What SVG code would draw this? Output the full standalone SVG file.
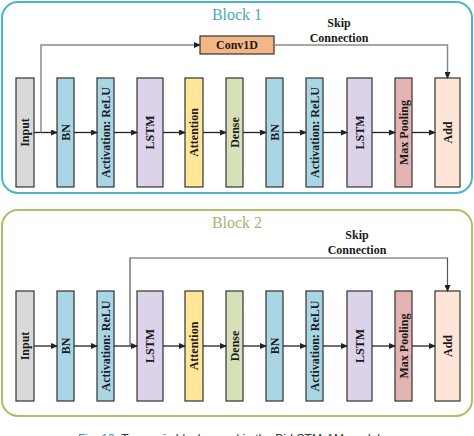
<svg xmlns="http://www.w3.org/2000/svg" width="474" height="436" viewBox="0 0 474 436">
<style>
.blk{fill:#ffffff;stroke-width:2}
.nd{stroke:#333;stroke-width:1.2}
.lbl{font-family:"Liberation Serif",serif;font-weight:bold;font-size:12px;fill:#1a1a1a;text-anchor:middle;dominant-baseline:central}
.title{font-family:"Liberation Serif",serif;font-size:16px;text-anchor:middle}
.skip{font-family:"Liberation Serif",serif;font-weight:bold;font-size:12px;fill:#1a1a1a;text-anchor:middle}
.ar{stroke:#222;stroke-width:1.3;fill:none;marker-end:url(#ah)}
.sk1{stroke:#8a8a8a;stroke-width:1.5;fill:none}
.sk2{stroke:#555;stroke-width:1.2;fill:none}
.gray{fill:#d9d9d9}.blue{fill:#a9d5e4}.lav{fill:#dcd3ea}.yel{fill:#ffe699}.grn{fill:#d6e1b8}.pink{fill:#e4b4b3}.peach{fill:#fde6d8}.org{fill:#f5b686}
</style>
<defs>
<marker id="ah" markerWidth="7" markerHeight="6" refX="6" refY="3" orient="auto" markerUnits="userSpaceOnUse">
<path d="M0,0 L7,3 L0,6 Z" fill="#222"/>
</marker>
</defs>
<g id="block1">
<rect class="blk" x="2" y="2" width="470" height="191" rx="16" stroke="#4cb3c9"/>
<text class="title" x="237" y="20" fill="#4aa9c2">Block 1</text>
</g>
<g id="block2">
<rect class="blk" x="2" y="210" width="470" height="206" rx="16" stroke="#a9c265"/>
<text class="title" x="237" y="228" fill="#a4b66a">Block 2</text>
</g>
<g id="b1-input"><rect class="nd gray" x="16" y="78" width="18" height="109"/><text class="lbl" transform="translate(25,132.5) rotate(-90)">Input</text></g>
<g id="b1-bn1"><rect class="nd blue" x="57" y="78" width="17" height="109"/><text class="lbl" transform="translate(65.5,132.5) rotate(-90)">BN</text></g>
<g id="b1-act1"><rect class="nd blue" x="97" y="78" width="17" height="109"/><text class="lbl" transform="translate(105.5,132.5) rotate(-90)">Activation: ReLU</text></g>
<g id="b1-lstm1"><rect class="nd lav" x="137" y="78" width="26" height="109"/><text class="lbl" transform="translate(150,132.5) rotate(-90)">LSTM</text></g>
<g id="b1-att"><rect class="nd yel" x="185" y="78" width="18" height="109"/><text class="lbl" transform="translate(194,132.5) rotate(-90)">Attention</text></g>
<g id="b1-dense"><rect class="nd grn" x="226" y="78" width="17" height="109"/><text class="lbl" transform="translate(234.5,132.5) rotate(-90)">Dense</text></g>
<g id="b1-bn2"><rect class="nd blue" x="266" y="78" width="17" height="109"/><text class="lbl" transform="translate(274.5,132.5) rotate(-90)">BN</text></g>
<g id="b1-act2"><rect class="nd blue" x="306" y="78" width="17" height="109"/><text class="lbl" transform="translate(314.5,132.5) rotate(-90)">Activation: ReLU</text></g>
<g id="b1-lstm2"><rect class="nd lav" x="347" y="78" width="25" height="109"/><text class="lbl" transform="translate(359.5,132.5) rotate(-90)">LSTM</text></g>
<g id="b1-pool"><rect class="nd pink" x="395" y="78" width="17" height="109"/><text class="lbl" transform="translate(403.5,132.5) rotate(-90)">Max Pooling</text></g>
<g id="b1-add"><rect class="nd peach" x="435" y="78" width="25" height="109"/><text class="lbl" transform="translate(447.5,132.5) rotate(-90)">Add</text></g>
<g id="b1-conv"><rect class="nd org" x="200" y="36" width="74" height="18"/><text class="lbl" x="237" y="45">Conv1D</text></g>
<g id="b2-input"><rect class="nd gray" x="16" y="291" width="18" height="110"/><text class="lbl" transform="translate(25,346) rotate(-90)">Input</text></g>
<g id="b2-bn1"><rect class="nd blue" x="57" y="291" width="17" height="110"/><text class="lbl" transform="translate(65.5,346) rotate(-90)">BN</text></g>
<g id="b2-act1"><rect class="nd blue" x="97" y="291" width="17" height="110"/><text class="lbl" transform="translate(105.5,346) rotate(-90)">Activation: ReLU</text></g>
<g id="b2-lstm1"><rect class="nd lav" x="137" y="291" width="26" height="110"/><text class="lbl" transform="translate(150,346) rotate(-90)">LSTM</text></g>
<g id="b2-att"><rect class="nd yel" x="185" y="291" width="18" height="110"/><text class="lbl" transform="translate(194,346) rotate(-90)">Attention</text></g>
<g id="b2-dense"><rect class="nd grn" x="226" y="291" width="17" height="110"/><text class="lbl" transform="translate(234.5,346) rotate(-90)">Dense</text></g>
<g id="b2-bn2"><rect class="nd blue" x="266" y="291" width="17" height="110"/><text class="lbl" transform="translate(274.5,346) rotate(-90)">BN</text></g>
<g id="b2-act2"><rect class="nd blue" x="306" y="291" width="17" height="110"/><text class="lbl" transform="translate(314.5,346) rotate(-90)">Activation: ReLU</text></g>
<g id="b2-lstm2"><rect class="nd lav" x="347" y="291" width="25" height="110"/><text class="lbl" transform="translate(359.5,346) rotate(-90)">LSTM</text></g>
<g id="b2-pool"><rect class="nd pink" x="395" y="291" width="17" height="110"/><text class="lbl" transform="translate(403.5,346) rotate(-90)">Max Pooling</text></g>
<g id="b2-add"><rect class="nd peach" x="435" y="291" width="25" height="110"/><text class="lbl" transform="translate(447.5,346) rotate(-90)">Add</text></g>
<g id="connectors">
<line class="ar" x1="34" y1="132.5" x2="57" y2="132.5"/>
<line class="ar" x1="74" y1="132.5" x2="97" y2="132.5"/>
<line class="ar" x1="114" y1="132.5" x2="137" y2="132.5"/>
<line class="ar" x1="163" y1="132.5" x2="185" y2="132.5"/>
<line class="ar" x1="203" y1="132.5" x2="226" y2="132.5"/>
<line class="ar" x1="243" y1="132.5" x2="266" y2="132.5"/>
<line class="ar" x1="283" y1="132.5" x2="306" y2="132.5"/>
<line class="ar" x1="323" y1="132.5" x2="347" y2="132.5"/>
<line class="ar" x1="372" y1="132.5" x2="395" y2="132.5"/>
<line class="ar" x1="412" y1="132.5" x2="435" y2="132.5"/>
<polyline class="sk1" points="41,132.5 41,45 200,45" marker-end="url(#ah)"/>
<polyline class="sk1" points="274,45 447.5,45 447.5,78" marker-end="url(#ah)"/>
<line class="ar" x1="34" y1="346" x2="57" y2="346"/>
<line class="ar" x1="74" y1="346" x2="97" y2="346"/>
<line class="ar" x1="114" y1="346" x2="137" y2="346"/>
<line class="ar" x1="163" y1="346" x2="185" y2="346"/>
<line class="ar" x1="203" y1="346" x2="226" y2="346"/>
<line class="ar" x1="243" y1="346" x2="266" y2="346"/>
<line class="ar" x1="283" y1="346" x2="306" y2="346"/>
<line class="ar" x1="323" y1="346" x2="347" y2="346"/>
<line class="ar" x1="372" y1="346" x2="395" y2="346"/>
<line class="ar" x1="412" y1="346" x2="435" y2="346"/>
<polyline class="sk2" points="130,346 130,258 447.5,258 447.5,291" marker-end="url(#ah)"/>
</g>
<text class="skip" x="339" y="27">Skip</text>
<text class="skip" x="339" y="42">Connection</text>
<text class="skip" x="357" y="239">Skip</text>
<text class="skip" x="357" y="254">Connection</text>
<text x="78" y="443" font-family="Liberation Sans,sans-serif" font-size="12" fill="#333"><tspan fill="#3a8fb0">Fig. 10.</tspan> Two main blocks used in the Bi-LSTM-AM model</text>
</svg>
